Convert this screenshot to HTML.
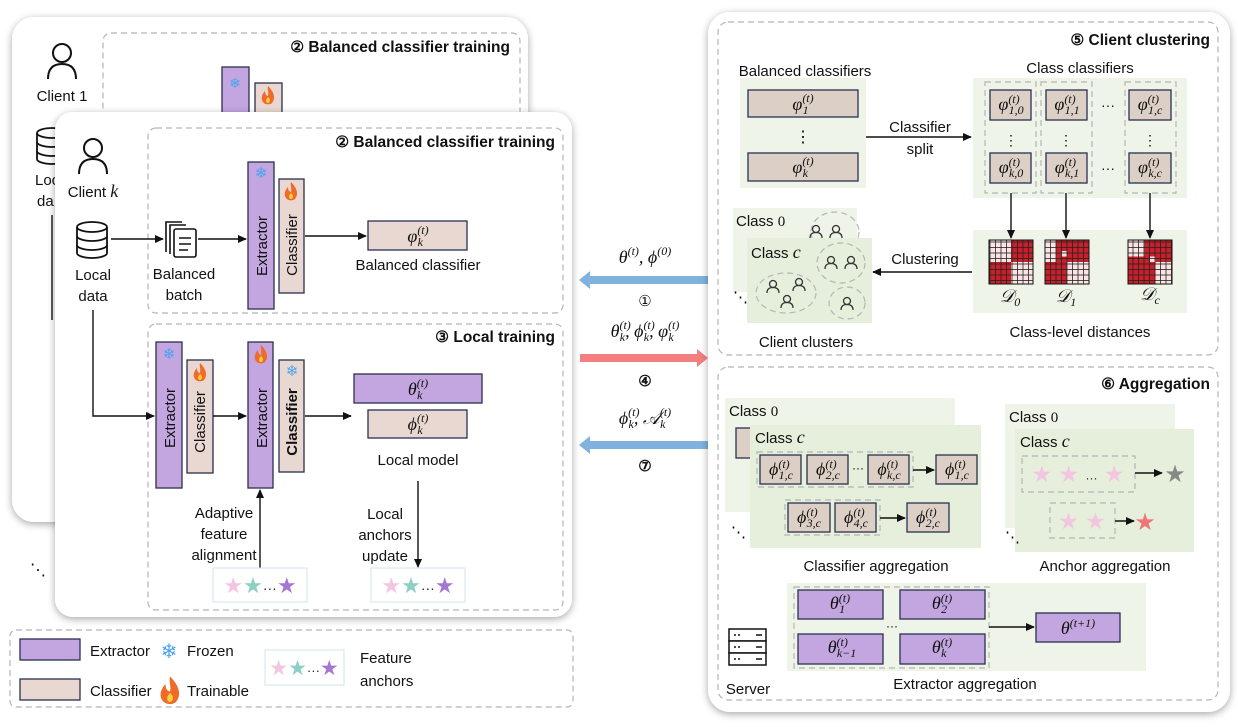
<!DOCTYPE html>
<html><head><meta charset="utf-8"><style>
html,body{margin:0;padding:0;background:#fff;}
svg{display:block;font-family:"Liberation Sans",sans-serif;}
.t{font-size:15px;fill:#111;}
.b{font-size:15.5px;font-weight:bold;fill:#111;}
.m{font-family:"Liberation Serif",serif;font-style:italic;font-size:18px;fill:#111;}
.s{font-size:12px;}
.ext{fill:#c3a5df;stroke:#2a3050;stroke-width:1.3;}
.cls{fill:#e9d8d2;stroke:#2a3050;stroke-width:1.3;}
.cls2{fill:#dccfc6;stroke:#2a3050;stroke-width:1.3;}
.dash{fill:none;stroke:#b5b5b5;stroke-width:1.2;stroke-dasharray:6 4;}
.ln{stroke:#111;stroke-width:1.4;fill:none;}
.g1{fill:#e5efdb;}
.g2{fill:#eef4e8;}
</style></head><body>
<svg width="1238" height="727" viewBox="0 0 1238 727">
<defs>
<marker id="ar" markerWidth="10" markerHeight="10" refX="8" refY="5" orient="auto" markerUnits="userSpaceOnUse"><path d="M0,1 L9,5 L0,9 z" fill="#111"/></marker>
<filter id="sh" x="-5%" y="-5%" width="110%" height="110%"><feDropShadow dx="0" dy="2" stdDeviation="4" flood-color="#000" flood-opacity="0.35"/></filter>
<pattern id="grid" x="0" y="0" width="5.5" height="5.5" patternUnits="userSpaceOnUse"><rect width="5.5" height="5.5" fill="none" stroke="#222" stroke-width="0.8"/></pattern>
<g id="person"><circle cx="0" cy="-9" r="9" fill="none" stroke="#111" stroke-width="2"/><path d="M-14,17 Q-14,2 0,2 Q14,2 14,17" fill="none" stroke="#111" stroke-width="2"/></g>
<g id="sperson"><circle cx="0" cy="-3" r="3.5" fill="none" stroke="#333" stroke-width="1.3"/><path d="M-6,6 Q-6,0.5 0,0.5 Q6,0.5 6,6" fill="none" stroke="#333" stroke-width="1.3"/></g>
<g id="db"><ellipse cx="0" cy="-13" rx="15" ry="5" fill="#fff" stroke="#111" stroke-width="1.8"/><path d="M-15,-13 V13 A15,5 0 0 0 15,13 V-13" fill="none" stroke="#111" stroke-width="1.8"/><path d="M-15,-4 A15,5 0 0 0 15,-4 M-15,5 A15,5 0 0 0 15,5" fill="none" stroke="#111" stroke-width="1.8"/></g>
<g id="flame"><path d="M0,-9 C6,-3 8,3 4,8 C2,10 -3,10 -5,7 C-8,3 -5,-2 -3,-4 C-3,0 -1,1 0,1 C1,-3 -1,-6 0,-9z" fill="#f06b2a"/><path d="M0,2 C3,4 2,8 0,8 C-2,8 -3,5 0,2z" fill="#ffd23a"/></g>
</defs>

<rect x="12" y="17" width="516" height="505" rx="22" fill="#fff" filter="url(#sh)"/>
<rect x="103" y="33" width="417" height="470" rx="8" class="dash"/>
<text x="510" y="52" class="b" text-anchor="end">② Balanced classifier training</text>
<use href="#person" x="62" y="62"/>
<text x="62" y="101" class="t" text-anchor="middle">Client 1</text>
<use href="#db" x="52" y="146"/>
<text x="35" y="185" class="t">Loc</text>
<text x="37" y="206" class="t">da</text>
<line x1="52" y1="215" x2="52" y2="320" class="ln"/>
<rect x="222" y="67" width="27" height="60" class="ext"/>
<rect x="255" y="83" width="27" height="40" class="cls"/>
<text x="235" y="88" font-size="14" fill="#4aa3f0" text-anchor="middle">❄</text>
<use href="#flame" x="268" y="95"/>

<rect x="55" y="112" width="517" height="505" rx="18" fill="#fff" filter="url(#sh)"/>
<rect x="148" y="128" width="415" height="185" rx="8" class="dash"/>
<text x="555" y="147" class="b" text-anchor="end">② Balanced classifier training</text>
<use href="#person" x="93" y="157"/>
<text x="93" y="197" class="t" text-anchor="middle">Client <tspan class="m" font-size="16">k</tspan></text>
<use href="#db" x="92" y="240"/>
<text x="93" y="280" class="t" text-anchor="middle">Local</text>
<text x="93" y="301" class="t" text-anchor="middle">data</text>
<g fill="#fff" stroke="#111" stroke-width="1.6">
<path d="M166,252 V222 H182"/><path d="M170,254 V225 H186"/>
<rect x="174" y="229" width="22" height="28" rx="2"/>
<path d="M179,238 H191 M179,244 H191 M179,250 H188"/>
</g>
<text x="184" y="279" class="t" text-anchor="middle">Balanced</text>
<text x="184" y="300" class="t" text-anchor="middle">batch</text>
<rect x="248" y="162" width="26" height="147" class="ext"/>
<rect x="279" y="179" width="25" height="114" class="cls"/>
<text x="261" y="178" font-size="15" fill="#4aa3f0" text-anchor="middle">❄</text>
<use href="#flame" x="291" y="191"/>
<text transform="translate(267,246) rotate(-90)" class="t" font-size="16" text-anchor="middle">Extractor</text>
<text transform="translate(297,245) rotate(-90)" class="t" text-anchor="middle">Classifier</text>
<line x1="111" y1="239" x2="163" y2="239" class="ln" marker-end="url(#ar)"/>
<line x1="198" y1="239" x2="246" y2="239" class="ln" marker-end="url(#ar)"/>
<line x1="305" y1="236" x2="366" y2="236" class="ln" marker-end="url(#ar)"/>
<rect x="368" y="221" width="99" height="29" class="cls"/>
<text x="418" y="242" class="m" text-anchor="middle">φ<tspan class="s" dy="-8">(t)</tspan><tspan class="s" dx="-11" dy="12">k</tspan></text>
<text x="418" y="270" class="t" text-anchor="middle">Balanced classifier</text>

<rect x="148" y="324" width="415" height="286" rx="8" class="dash"/>
<text x="555" y="342" class="b" text-anchor="end">③ Local training</text>
<rect x="156" y="342" width="26" height="146" class="ext"/>
<rect x="187" y="360" width="26" height="113" class="cls"/>
<rect x="248" y="342" width="25" height="146" class="ext"/>
<rect x="279" y="360" width="25" height="112" class="cls"/>
<text x="169" y="359" font-size="15" fill="#4aa3f0" text-anchor="middle">❄</text>
<use href="#flame" x="200" y="372"/>
<use href="#flame" x="261" y="354"/>
<text x="292" y="376" font-size="15" fill="#4aa3f0" text-anchor="middle">❄</text>
<text transform="translate(175,418) rotate(-90)" class="t" font-size="16" text-anchor="middle">Extractor</text>
<text transform="translate(205,422) rotate(-90)" class="t" text-anchor="middle">Classifier</text>
<text transform="translate(267,418) rotate(-90)" class="t" font-size="16" text-anchor="middle">Extractor</text>
<text transform="translate(297,422) rotate(-90)" class="t" font-weight="bold" text-anchor="middle">Classifier</text>
<path d="M93,310 V416 H154" class="ln" marker-end="url(#ar)"/>
<line x1="213" y1="416" x2="246" y2="416" class="ln" marker-end="url(#ar)"/>
<line x1="305" y1="416" x2="351" y2="416" class="ln" marker-end="url(#ar)"/>
<rect x="354" y="374" width="128" height="29" class="ext"/>
<text x="418" y="395" class="m" text-anchor="middle">θ<tspan class="s" dy="-8">(t)</tspan><tspan class="s" dx="-11" dy="12">k</tspan></text>
<rect x="368" y="410" width="99" height="28" class="cls"/>
<text x="418" y="430" class="m" text-anchor="middle">ϕ<tspan class="s" dy="-8">(t)</tspan><tspan class="s" dx="-11" dy="12">k</tspan></text>
<text x="418" y="465" class="t" text-anchor="middle">Local model</text>
<line x1="260" y1="568" x2="260" y2="490" class="ln" marker-end="url(#ar)"/>
<text x="224" y="518" class="t" text-anchor="middle">Adaptive</text>
<text x="224" y="539" class="t" text-anchor="middle">feature</text>
<text x="224" y="560" class="t" text-anchor="middle">alignment</text>
<line x1="418" y1="481" x2="418" y2="567" class="ln" marker-end="url(#ar)"/>
<text x="385" y="519" class="t" text-anchor="middle">Local</text>
<text x="385" y="540" class="t" text-anchor="middle">anchors</text>
<text x="385" y="561" class="t" text-anchor="middle">update</text>
<rect x="213" y="568" width="94" height="34" fill="#fff" stroke="#cfe4ec" stroke-width="1"/>
<text x="260" y="593" font-size="22" text-anchor="middle"><tspan fill="#f3c5e0">★</tspan><tspan fill="#8ccfc5">★</tspan><tspan fill="#222" font-size="14">···</tspan><tspan fill="#a577d2">★</tspan></text>
<rect x="371" y="568" width="94" height="34" fill="#fff" stroke="#cfe4ec" stroke-width="1"/>
<text x="418" y="593" font-size="22" text-anchor="middle"><tspan fill="#f3c5e0">★</tspan><tspan fill="#8ccfc5">★</tspan><tspan fill="#222" font-size="14">···</tspan><tspan fill="#a577d2">★</tspan></text>
<text x="30" y="575" font-size="16" fill="#111">⋱</text>

<rect x="10" y="630" width="563" height="77" rx="6" class="dash" stroke-dasharray="3 3"/>
<rect x="20" y="639" width="60" height="21" class="ext"/>
<text x="90" y="656" class="t">Extractor</text>
<rect x="20" y="679" width="60" height="21" class="cls"/>
<text x="90" y="696" class="t">Classifier</text>
<text x="169" y="658" font-size="20" fill="#4aa3f0" text-anchor="middle">❄</text>
<text x="187" y="656" class="t">Frozen</text>
<use href="#flame" x="170" y="690" transform="translate(-85,-345) scale(1.5)"/>
<text x="187" y="696" class="t">Trainable</text>
<rect x="265" y="650" width="79" height="35" fill="#fff" stroke="#cfe4ec"/>
<text x="304" y="675" font-size="21" text-anchor="middle"><tspan fill="#f3c5e0">★</tspan><tspan fill="#8ccfc5">★</tspan><tspan fill="#222" font-size="13">···</tspan><tspan fill="#a577d2">★</tspan></text>
<text x="360" y="663" class="t">Feature</text>
<text x="360" y="686" class="t">anchors</text>

<text x="645" y="263" class="m" text-anchor="middle">θ<tspan class="s" dy="-8">(t)</tspan><tspan dy="8">, ϕ</tspan><tspan class="s" dy="-8">(0)</tspan></text>
<path d="M710,276 H590 V271 L579,280 L590,289 V284 H710z" fill="#7fb3de"/>
<text x="645" y="306" font-size="15" text-anchor="middle" fill="#111">①</text>
<text x="645" y="337" class="m" text-anchor="middle">θ<tspan class="s" dy="-8">(t)</tspan><tspan class="s" dx="-11" dy="12">k</tspan><tspan dy="-4">, ϕ</tspan><tspan class="s" dy="-8">(t)</tspan><tspan class="s" dx="-11" dy="12">k</tspan><tspan dy="-4">, φ</tspan><tspan class="s" dy="-8">(t)</tspan><tspan class="s" dx="-11" dy="12">k</tspan></text>
<path d="M580,354 H697 V349 L708,358 L697,367 V362 H580z" fill="#f47f7f"/>
<text x="645" y="386" font-size="15" font-weight="bold" text-anchor="middle" fill="#111">④</text>
<text x="645" y="424" class="m" text-anchor="middle">ϕ<tspan class="s" dy="-8">(t)</tspan><tspan class="s" dx="-11" dy="12">k</tspan><tspan dy="-4">, 𝒜</tspan><tspan class="s" dy="-8">(t)</tspan><tspan class="s" dx="-11" dy="12">k</tspan></text>
<path d="M710,441 H590 V436 L579,445 L590,454 V449 H710z" fill="#7fb3de"/>
<text x="645" y="471" font-size="15" font-weight="bold" text-anchor="middle" fill="#111">⑦</text>

<rect x="708" y="12" width="522" height="700" rx="22" fill="#fff" filter="url(#sh)"/>
<rect x="718" y="22" width="500" height="333" rx="10" class="dash"/>
<text x="1210" y="45" class="b" text-anchor="end">⑤ Client clustering</text>
<text x="805" y="76" class="t" text-anchor="middle">Balanced classifiers</text>
<rect x="740" y="78" width="126" height="110" class="g2"/>
<rect x="748" y="90" width="110" height="27" class="cls2"/>
<text x="803" y="110" class="m" text-anchor="middle">φ<tspan class="s" dy="-8">(t)</tspan><tspan class="s" dx="-11" dy="12">1</tspan></text>
<text x="803" y="142" font-size="16" text-anchor="middle">⋮</text>
<rect x="748" y="153" width="110" height="28" class="cls2"/>
<text x="803" y="173" class="m" text-anchor="middle">φ<tspan class="s" dy="-8">(t)</tspan><tspan class="s" dx="-11" dy="12">k</tspan></text>
<line x1="866" y1="137" x2="971" y2="137" class="ln" marker-end="url(#ar)"/>
<text x="920" y="132" class="t" text-anchor="middle">Classifier</text>
<text x="920" y="154" class="t" text-anchor="middle">split</text>
<text x="1080" y="73" class="t" text-anchor="middle">Class classifiers</text>
<rect x="973" y="78" width="214" height="120" class="g2"/>
<g class="dash" stroke-dasharray="4 3"><rect x="985" y="82" width="51" height="111"/><rect x="1041" y="82" width="51" height="111"/><rect x="1125" y="82" width="51" height="111"/></g>
<rect x="990" y="90" width="41" height="30" class="cls2"/><rect x="1046" y="90" width="41" height="30" class="cls2"/><rect x="1129" y="90" width="42" height="30" class="cls2"/>
<rect x="990" y="153" width="41" height="30" class="cls2"/><rect x="1046" y="153" width="41" height="30" class="cls2"/><rect x="1129" y="153" width="42" height="30" class="cls2"/>
<g class="m" font-size="16" text-anchor="middle">
<text x="1011" y="110">φ<tspan class="s" dy="-7">(t)</tspan><tspan class="s" dx="-11" dy="11">1,0</tspan></text>
<text x="1067" y="110">φ<tspan class="s" dy="-7">(t)</tspan><tspan class="s" dx="-11" dy="11">1,1</tspan></text>
<text x="1150" y="110">φ<tspan class="s" dy="-7">(t)</tspan><tspan class="s" dx="-11" dy="11">1,c</tspan></text>
<text x="1011" y="173">φ<tspan class="s" dy="-7">(t)</tspan><tspan class="s" dx="-11" dy="11">k,0</tspan></text>
<text x="1067" y="173">φ<tspan class="s" dy="-7">(t)</tspan><tspan class="s" dx="-11" dy="11">k,1</tspan></text>
<text x="1150" y="173">φ<tspan class="s" dy="-7">(t)</tspan><tspan class="s" dx="-11" dy="11">k,c</tspan></text>
</g>
<g font-size="14" text-anchor="middle" fill="#111"><text x="1011" y="145">⋮</text><text x="1066" y="145">⋮</text><text x="1150" y="145">⋮</text><text x="1108" y="110">···</text><text x="1108" y="173">···</text><text x="1108" y="266">···</text></g>
<rect x="973" y="230" width="214" height="83" class="g2"/>
<line x1="1011" y1="193" x2="1011" y2="238" class="ln" marker-end="url(#ar)"/>
<line x1="1066" y1="193" x2="1066" y2="238" class="ln" marker-end="url(#ar)"/>
<line x1="1150" y1="193" x2="1150" y2="238" class="ln" marker-end="url(#ar)"/>
<g>
<rect x="989" y="240" width="44" height="44" fill="#c8202a"/><rect x="989" y="240" width="22" height="22" fill="#fbe3e3"/><rect x="1011" y="262" width="22" height="22" fill="#fbe3e3"/><rect x="989" y="240" width="44" height="44" fill="url(#grid)" stroke="#111"/>
<rect x="1045" y="240" width="44" height="44" fill="#c8202a"/><rect x="1045" y="240" width="11" height="22" fill="#fbe3e3"/><rect x="1061.5" y="251" width="5.5" height="5.5" fill="#fbe3e3"/><rect x="1067" y="262" width="22" height="22" fill="#fbe3e3"/><rect x="1045" y="240" width="44" height="44" fill="url(#grid)" stroke="#111"/>
<rect x="1128" y="240" width="44" height="44" fill="#c8202a"/><rect x="1128" y="240" width="16.5" height="16.5" fill="#fbe3e3"/><rect x="1155.5" y="262" width="16.5" height="22" fill="#fbe3e3"/><rect x="1150" y="256.5" width="5.5" height="5.5" fill="#fbe3e3"/><rect x="1128" y="240" width="44" height="44" fill="url(#grid)" stroke="#111"/>
</g>
<g class="m" font-size="16" text-anchor="middle"><text x="1010" y="302">𝒟<tspan class="s" dy="4">0</tspan></text><text x="1066" y="302">𝒟<tspan class="s" dy="4">1</tspan></text><text x="1150" y="300">𝒟<tspan class="s" dy="4">c</tspan></text></g>
<text x="1080" y="337" class="t" text-anchor="middle">Class-level distances</text>
<text x="925" y="264" class="t" text-anchor="middle">Clustering</text>
<line x1="972" y1="272" x2="873" y2="272" class="ln" marker-end="url(#ar)"/>
<rect x="733" y="208" width="124" height="84" class="g2"/>
<text x="736" y="226" class="t">Class <tspan font-family="Liberation Serif">0</tspan></text>
<ellipse cx="835" cy="232" rx="24" ry="20" class="dash" stroke-dasharray="3 3"/>
<use href="#sperson" x="816" y="232"/><use href="#sperson" x="836" y="232"/>
<rect x="747" y="238" width="125" height="85" class="g1"/>
<text x="751" y="258" class="t">Class <tspan class="m" font-size="16">c</tspan></text>
<ellipse cx="841" cy="263" rx="24" ry="20" class="dash" stroke-dasharray="3 3"/>
<use href="#sperson" x="831" y="263"/><use href="#sperson" x="851" y="263"/>
<ellipse cx="786" cy="293" rx="30" ry="20" class="dash" stroke-dasharray="3 3"/>
<use href="#sperson" x="773" y="287"/><use href="#sperson" x="799" y="285"/><use href="#sperson" x="787" y="302"/>
<ellipse cx="847" cy="303" rx="18" ry="16" class="dash" stroke-dasharray="3 3"/>
<use href="#sperson" x="847" y="304"/>
<text x="733" y="302" font-size="15">⋱</text>
<text x="806" y="347" class="t" text-anchor="middle">Client clusters</text>

<rect x="718" y="367" width="500" height="333" rx="10" class="dash"/>
<text x="1210" y="389" class="b" text-anchor="end">⑥ Aggregation</text>
<rect x="725" y="398" width="230" height="114" class="g2"/>
<text x="729" y="416" class="t">Class <tspan font-family="Liberation Serif">0</tspan></text>
<rect x="736" y="428" width="20" height="30" class="cls2"/>
<rect x="750" y="425" width="231" height="123" class="g1"/>
<text x="755" y="443" class="t">Class <tspan class="m" font-size="16">c</tspan></text>
<rect x="757" y="452" width="156" height="35" class="dash" stroke-dasharray="4 3"/>
<rect x="785" y="500" width="95" height="35" class="dash" stroke-dasharray="4 3"/>
<rect x="760" y="455" width="41" height="29" class="cls2"/><rect x="807" y="455" width="41" height="29" class="cls2"/><rect x="868" y="455" width="41" height="29" class="cls2"/><rect x="936" y="455" width="41" height="29" class="cls2"/>
<rect x="788" y="503" width="42" height="29" class="cls2"/><rect x="835" y="503" width="41" height="29" class="cls2"/><rect x="907" y="503" width="42" height="29" class="cls2"/>
<g class="m" font-size="16" text-anchor="middle">
<text x="781" y="475">ϕ<tspan class="s" dy="-7">(t)</tspan><tspan class="s" dx="-11" dy="11">1,c</tspan></text>
<text x="828" y="475">ϕ<tspan class="s" dy="-7">(t)</tspan><tspan class="s" dx="-11" dy="11">2,c</tspan></text>
<text x="889" y="475">ϕ<tspan class="s" dy="-7">(t)</tspan><tspan class="s" dx="-11" dy="11">k,c</tspan></text>
<text x="957" y="475">ϕ<tspan class="s" dy="-7">(t)</tspan><tspan class="s" dx="-11" dy="11">1,c</tspan></text>
<text x="809" y="523">ϕ<tspan class="s" dy="-7">(t)</tspan><tspan class="s" dx="-11" dy="11">3,c</tspan></text>
<text x="856" y="523">ϕ<tspan class="s" dy="-7">(t)</tspan><tspan class="s" dx="-11" dy="11">4,c</tspan></text>
<text x="928" y="523">ϕ<tspan class="s" dy="-7">(t)</tspan><tspan class="s" dx="-11" dy="11">2,c</tspan></text>
</g>
<text x="858" y="472" font-size="12" text-anchor="middle">···</text>
<line x1="913" y1="470" x2="934" y2="470" class="ln" marker-end="url(#ar)"/>
<line x1="880" y1="518" x2="905" y2="518" class="ln" marker-end="url(#ar)"/>
<text x="731" y="537" font-size="15">⋱</text>
<text x="876" y="571" class="t" text-anchor="middle">Classifier aggregation</text>

<rect x="1005" y="404" width="170" height="124" class="g2"/>
<text x="1009" y="422" class="t">Class <tspan font-family="Liberation Serif">0</tspan></text>
<rect x="1015" y="429" width="179" height="123" class="g1"/>
<text x="1020" y="447" class="t">Class <tspan class="m" font-size="16">c</tspan></text>
<rect x="1022" y="456" width="113" height="36" class="dash" stroke-dasharray="5 3"/>
<rect x="1050" y="503" width="65" height="35" class="dash" stroke-dasharray="5 3"/>
<text x="1078" y="482" font-size="23" text-anchor="middle" fill="#f3c5e0">★ ★ <tspan fill="#222" font-size="12">···</tspan> ★</text>
<text x="1082" y="529" font-size="23" text-anchor="middle" fill="#f3c5e0">★ ★</text>
<line x1="1135" y1="473" x2="1162" y2="473" class="ln" marker-end="url(#ar)"/>
<text x="1175" y="482" font-size="24" text-anchor="middle" fill="#888">★</text>
<line x1="1115" y1="521" x2="1134" y2="521" class="ln" marker-end="url(#ar)"/>
<text x="1145" y="530" font-size="24" text-anchor="middle" fill="#ee7777">★</text>
<text x="1005" y="542" font-size="15">⋱</text>
<text x="1105" y="571" class="t" text-anchor="middle">Anchor aggregation</text>

<rect x="787" y="583" width="359" height="88" class="g2"/>
<rect x="794" y="587" width="195" height="81" class="dash" stroke-dasharray="4 3"/>
<rect x="798" y="590" width="85" height="29" class="ext"/><rect x="900" y="590" width="85" height="29" class="ext"/>
<rect x="798" y="634" width="85" height="30" class="ext"/><rect x="900" y="634" width="85" height="30" class="ext"/>
<g class="m" font-size="17" text-anchor="middle">
<text x="840" y="609">θ<tspan class="s" dy="-7">(t)</tspan><tspan class="s" dx="-11" dy="11">1</tspan></text>
<text x="942" y="609">θ<tspan class="s" dy="-7">(t)</tspan><tspan class="s" dx="-11" dy="11">2</tspan></text>
<text x="842" y="653">θ<tspan class="s" dy="-7">(t)</tspan><tspan class="s" dx="-11" dy="11">k−1</tspan></text>
<text x="942" y="653">θ<tspan class="s" dy="-7">(t)</tspan><tspan class="s" dx="-11" dy="11">k</tspan></text>
</g>
<text x="892" y="630" font-size="12" text-anchor="middle">···</text>
<rect x="1036" y="613" width="84" height="29" class="ext"/>
<text x="1078" y="634" class="m" font-size="17" text-anchor="middle">θ<tspan class="s" dy="-7">(t+1)</tspan></text>
<line x1="989" y1="627" x2="1034" y2="627" class="ln" marker-end="url(#ar)"/>
<text x="965" y="689" class="t" text-anchor="middle">Extractor aggregation</text>
<g fill="#fff" stroke="#111" stroke-width="1.5">
<rect x="729" y="629" width="37" height="12"/><rect x="729" y="641" width="37" height="12"/><rect x="729" y="653" width="37" height="12"/>
</g>
<g stroke="#111" stroke-width="1.5"><path d="M734,635h2M738,635h2M756,635h6M734,647h2M738,647h2M756,647h6M734,659h2M738,659h2M756,659h6"/></g>
<text x="748" y="694" class="t" text-anchor="middle">Server</text>
</svg>
</body></html>
